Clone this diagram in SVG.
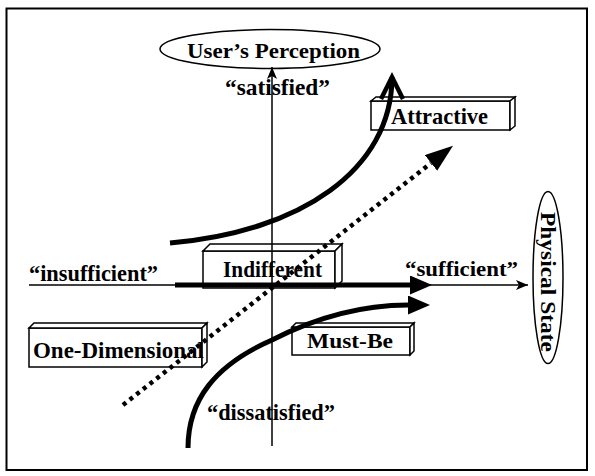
<svg xmlns="http://www.w3.org/2000/svg" width="595" height="476" viewBox="0 0 595 476">
<defs>
<style>
.t{font-family:"Liberation Serif","DejaVu Serif",serif;font-weight:bold;fill:#000}
.face{fill:#fff;stroke:#000;stroke-width:1.5;stroke-linejoin:miter}
.ell{fill:#fff;stroke:#000;stroke-width:1.5}
.thin{fill:none;stroke:#000;stroke-width:1.5}
.thick{fill:none;stroke:#000;stroke-width:5}
.dots{fill:none;stroke:#000;stroke-width:4.5;stroke-dasharray:4 4.5}
</style>
<marker id="thinhead" markerUnits="userSpaceOnUse" viewBox="0 0 12 10" refX="12" refY="5" markerWidth="12" markerHeight="10" orient="auto">
<path d="M0,0 L12,5 L0,10 L3,5 z" fill="#000"/>
</marker>
<marker id="bighead" markerUnits="userSpaceOnUse" viewBox="0 0 22 19" refX="0" refY="9.5" markerWidth="22" markerHeight="19" orient="auto">
<path d="M0,0 L22,9.5 L0,19 z" fill="#000"/>
</marker>
<marker id="dothead" markerUnits="userSpaceOnUse" viewBox="0 0 28 20" refX="0" refY="10" markerWidth="28" markerHeight="20" orient="auto">
<path d="M0,0 L28,10 L0,20 z" fill="#000"/>
</marker>
<marker id="openhead" markerUnits="userSpaceOnUse" viewBox="0 0 32 30" refX="24" refY="15" markerWidth="32" markerHeight="30" orient="auto" overflow="visible">
<path d="M2,4 L24,15 L2,26" fill="none" stroke="#000" stroke-width="4.5" stroke-linejoin="miter"/>
</marker>
</defs>
<rect x="6.5" y="8.5" width="580.5" height="461.5" fill="#fff" stroke="#000" stroke-width="2"/>

<g id="user-perception">
<ellipse class="ell" cx="270" cy="49" rx="110" ry="19.5"/>
<text class="t" x="187" y="58" font-size="21" textLength="173" lengthAdjust="spacingAndGlyphs">User’s Perception</text>
</g>
<g id="physical-state">
<ellipse class="ell" cx="548" cy="277.5" rx="15" ry="86"/>
<text class="t" font-size="21" text-anchor="middle" transform="translate(541,282) rotate(90)" textLength="140" lengthAdjust="spacingAndGlyphs">Physical State</text>
</g>
<g id="attractive">
<rect class="face" x="371" y="101" width="139" height="29"/>
<polygon class="face" points="371,101 376,97 515,97 510,101"/>
<polygon class="face" points="510,101 515,97 515,126 510,130"/>
<text class="t" x="391" y="124" font-size="23" textLength="97" lengthAdjust="spacingAndGlyphs">Attractive</text>
</g>
<g id="indifferent">
<rect class="face" x="203" y="251" width="132" height="37"/>
<polygon class="face" points="203,251 210,244 342,244 335,251"/>
<polygon class="face" points="335,251 342,244 342,281 335,288"/>
<text class="t" x="223" y="277" font-size="23" textLength="99" lengthAdjust="spacingAndGlyphs">Indifferent</text>
</g>
<g id="one-dimensional">
<rect class="face" x="29" y="328" width="173" height="39"/>
<polygon class="face" points="29,328 34,323 207,323 202,328"/>
<polygon class="face" points="202,328 207,323 207,362 202,367"/>
<text class="t" x="33" y="358" font-size="24" textLength="171" lengthAdjust="spacingAndGlyphs">One-Dimensional</text>
</g>
<g id="must-be">
<rect class="face" x="292" y="327" width="118" height="28"/>
<polygon class="face" points="292,327 296,323 414,323 410,327"/>
<polygon class="face" points="410,327 414,323 414,351 410,355"/>
<text class="t" x="307" y="348" font-size="21" textLength="86" lengthAdjust="spacingAndGlyphs">Must-Be</text>
</g>

<g id="labels">
<text class="t" x="225" y="95" font-size="23" textLength="105" lengthAdjust="spacingAndGlyphs">“satisfied”</text>
<text class="t" x="29" y="281" font-size="24" textLength="129" lengthAdjust="spacingAndGlyphs">“insufficient”</text>
<text class="t" x="405" y="276" font-size="22" textLength="113" lengthAdjust="spacingAndGlyphs">“sufficient”</text>
<text class="t" x="207" y="420" font-size="23" textLength="128" lengthAdjust="spacingAndGlyphs">“dissatisfied”</text>
</g>

<g id="connectors">
<line class="thin" x1="272" y1="446" x2="272" y2="67" marker-end="url(#thinhead)"/>
<line class="thin" x1="29" y1="285" x2="528" y2="285" marker-end="url(#thinhead)"/>
<path class="thick" d="M175,285 L410,285" marker-end="url(#bighead)"/>
<path class="thick" d="M188,448 C188,400 215,365 272,340 C315,318 360,305 408,305" marker-end="url(#bighead)"/>
<path class="dots" d="M123,405 L431,163" marker-end="url(#dothead)"/>
<path class="thick" d="M170,243 C300,232 392,170 392,77" marker-end="url(#openhead)"/>
</g>
</svg>
